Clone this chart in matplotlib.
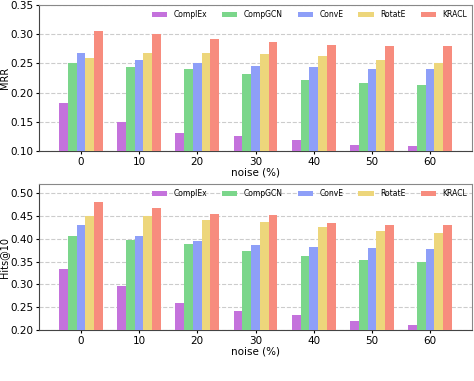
import numpy as np
import matplotlib
matplotlib.use("Agg")
import matplotlib.pyplot as plt

noise = ["0", "10", "20", "30", "40", "50", "60"]
models = ["ComplEx", "CompGCN", "ConvE", "RotatE", "KRACL"]
colors = ["#c472dc", "#7bd68b", "#8e9ff8", "#edd67b", "#f78c7e"]

mrr = {
    "ComplEx": [0.183, 0.150, 0.130, 0.126, 0.119, 0.110, 0.109],
    "CompGCN": [0.250, 0.243, 0.241, 0.231, 0.222, 0.217, 0.213],
    "ConvE":   [0.267, 0.255, 0.250, 0.245, 0.243, 0.241, 0.240],
    "RotatE":  [0.260, 0.268, 0.268, 0.266, 0.262, 0.255, 0.251],
    "KRACL":   [0.306, 0.301, 0.291, 0.286, 0.281, 0.279, 0.280],
}
hits10 = {
    "ComplEx": [0.334, 0.296, 0.260, 0.242, 0.232, 0.220, 0.212],
    "CompGCN": [0.406, 0.398, 0.389, 0.374, 0.363, 0.353, 0.350],
    "ConvE":   [0.431, 0.407, 0.394, 0.387, 0.383, 0.379, 0.378],
    "RotatE":  [0.450, 0.450, 0.442, 0.436, 0.426, 0.416, 0.412],
    "KRACL":   [0.480, 0.468, 0.455, 0.452, 0.434, 0.431, 0.431],
}


def draw(ax, data, ylabel, ylim, yticks):
    x = np.arange(len(noise))
    w = 0.15
    for i, (m, c) in enumerate(zip(models, colors)):
        ax.bar(x + (i - 2) * w, data[m], w, color=c, label=m, zorder=3)
    ax.set_xlim(-0.72, 6.72)
    ax.set_ylim(*ylim)
    ax.set_yticks(yticks)
    ax.set_yticklabels([f"{t:.2f}" for t in yticks])
    ax.set_xticks(x)
    ax.set_xticklabels(noise)
    ax.set_xlabel("noise (%)", fontsize=7.5, labelpad=1)
    ax.set_ylabel(ylabel, fontsize=7)
    ax.yaxis.set_label_coords(-0.068, 0.5)
    ax.tick_params(labelsize=7.5, length=2.5, pad=1.5)
    ax.yaxis.grid(True, linestyle="--", color="#cccccc", linewidth=0.8, zorder=0)
    for s in ax.spines.values():
        s.set_color("#888888")
    ax.spines["left"].set_color("#444444")
    ax.spines["bottom"].set_color("#444444")
    ax.legend(ncol=5, loc="upper right", frameon=False, fontsize=5.5,
              handlelength=2.0, handleheight=0.65, handletextpad=0.8,
              columnspacing=2.0, borderaxespad=0.3,
              bbox_to_anchor=(1.0, 1.0))


fig = plt.figure(figsize=(4.74, 3.81), dpi=100)
H = 381.0
W = 474.0
ax1 = fig.add_axes([39 / W, (H - 151) / H, 433 / W, 146 / H])
ax2 = fig.add_axes([39 / W, (H - 330) / H, 433 / W, 146 / H])

draw(ax1, mrr, "MRR", (0.10, 0.35), [0.10, 0.15, 0.20, 0.25, 0.30, 0.35])
draw(ax2, hits10, "Hits@10", (0.20, 0.52), [0.20, 0.25, 0.30, 0.35, 0.40, 0.45, 0.50])

fig.savefig("out.png", dpi=100)
